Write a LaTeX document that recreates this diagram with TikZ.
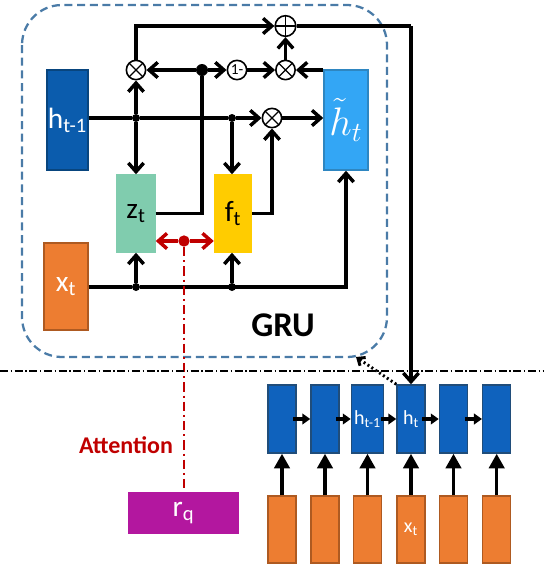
\documentclass[tikz,border=0pt]{standalone}
\usepackage{fontspec}
\setmainfont{Carlito}
\usetikzlibrary{arrows.meta}
\definecolor{hdark}{HTML}{0B5CAD}
\definecolor{hdarkb}{HTML}{08457E}
\definecolor{hlight}{HTML}{33A6F5}
\definecolor{hlightb}{HTML}{2E86C1}
\definecolor{zgreen}{HTML}{80CCAE}
\definecolor{fyellow}{HTML}{FFCC00}
\definecolor{xorange}{HTML}{ED7D31}
\definecolor{xorangeb}{HTML}{AE5A21}
\definecolor{rblue}{HTML}{0F62BD}
\definecolor{rblueb}{HTML}{204D7A}
\definecolor{rqmag}{HTML}{B3179F}
\definecolor{attred}{HTML}{C00000}
\definecolor{gruline}{HTML}{4A7BA7}
\begin{document}
\begin{tikzpicture}[x=0.75pt,y=-0.75pt,
  ln/.style={line width=2.6pt},
  arr/.style={ln,-{Straight Barb[length=6.5pt,width=11.5pt]}},
  farr/.style={line width=2.6pt,-{Triangle[length=11pt,width=11.5pt]}},
  sarr/.style={line width=2.6pt,-{Triangle[length=6pt,width=8pt]}},
  rarr/.style={line width=2.6pt,attred,-{Straight Barb[length=6.5pt,width=11.5pt]}},
  box/.style={draw,line width=1.1pt,inner sep=0pt},
  bigtxt/.style={font=\fontsize{22}{22}\selectfont},
  smtxt/.style={font=\fontsize{15}{15}\selectfont},
  mult/.style={circle,draw,fill=white,line width=1.2pt,minimum size=14.5pt,inner sep=0pt,
    path picture={\draw[line width=1pt] (path picture bounding box.north west) -- (path picture bounding box.south east)
      (path picture bounding box.north east) -- (path picture bounding box.south west);}},
  addc/.style={circle,draw,fill=white,line width=1.2pt,minimum size=15.5pt,inner sep=0pt,
    path picture={\draw[line width=1pt] (path picture bounding box.north) -- (path picture bounding box.south)
      (path picture bounding box.east) -- (path picture bounding box.west);}},
  jdot/.style={circle,fill=black,inner sep=0pt,minimum size=6pt},
  rblk/.style={box,fill=rblue,draw=rblueb,minimum width=21pt,minimum height=51pt,text=white,smtxt},
  oblk/.style={box,fill=xorange,draw=xorangeb,minimum width=21pt,minimum height=50.25pt,text=white,smtxt}
]
\useasboundingbox (0,0) rectangle (544,565);

% GRU frame
\draw[gruline,line width=1.7pt,dash pattern=on 6pt off 3.5pt,rounded corners=30pt] (22,5) rectangle (387,357);
\node[font=\fontsize{26}{26}\selectfont\bfseries] (gru) at (283,325) {GRU};

% boxes
\node[box,fill=hdark,draw=hdarkb,minimum width=30.75pt,minimum height=75pt,text=white,bigtxt] (hp) at (67.5,120) {h\textsubscript{t-1}};
\node[box,fill=hlight,draw=hlightb,minimum width=33pt,minimum height=75pt,text=white,font=\fontsize{24}{24}\selectfont] (ht) at (346,120) {\scalebox{1.2}{$\tilde{h}_t$}};
\node[box,fill=zgreen,draw=zgreen,minimum width=28.5pt,minimum height=57.75pt,bigtxt] (z) at (136,213.5) {z\textsubscript{t}};
\node[box,fill=fyellow,draw=fyellow,minimum width=27.75pt,minimum height=57.75pt,bigtxt] (f) at (233,213.5) {f\textsubscript{t}};
\node[box,fill=xorange,draw=xorangeb,minimum width=33pt,minimum height=65.25pt,text=white,bigtxt] (x) at (66,286.5) {x\textsubscript{t}};

% operators
\node[addc] (pl) at (285.5,26) {};
\node[mult] (m1) at (136,70) {};
\node[mult] (m2) at (285.5,70) {};
\node[mult] (m3) at (272,118) {};
\node[circle,draw,fill=white,line width=1.2pt,minimum size=14.5pt,inner sep=0pt,font=\fontsize{11.5}{11.5}\selectfont] (one) at (237,70) {1-};
\node[circle,fill=black,inner sep=0pt,minimum size=9pt] (dt) at (202,70) {};
\node[jdot] (j1) at (136,118) {};
\node[jdot] (j2) at (232,118) {};
\node[jdot] (j3) at (136,287) {};
\node[jdot] (j4) at (232,287) {};

% GRU connectors
\draw[arr] (m1.north) |- (pl.west);
\draw[arr] (dt) -- (m1.east);
\draw[arr] (dt) -- (one.west);
\draw[arr] (one.east) -- (m2.west);
\draw[arr] (m2 -| ht.west) -- (m2.east);
\draw[arr] (m2.north) -- (pl.south);
\draw[ln] (hp.east |- j1) -- (j1) -- (j2);
\draw[arr] (j2) -- (m3.west);
\draw[arr] (m3.east) -- (m3 -| ht.west);
\draw[arr] (j1) -- (m1.south);
\draw[arr] (j1) -- (z.north);
\draw[arr] (j2) -- (j2 |- f.north);
\draw[ln] (z.east) -| (dt);
\draw[arr] (f.east) -| (m3.south);
\draw[ln] (x.east |- j3) -- (j3);
\draw[arr] (j3) -| (ht.south);
\draw[arr] (j3) -- (z.south);
\draw[arr] (j4) -- (j4 |- f.south);

% attention
\node[circle,fill=attred,inner sep=0pt,minimum size=8.5pt] (rd) at (184,241) {};
\draw[rarr] (rd) -- (rd -| z.east);
\draw[rarr] (rd) -- (rd -| f.west);
\node[box,fill=rqmag,draw=rqmag,minimum width=81.75pt,minimum height=30pt,text=white,bigtxt] (rq) at (183.5,513) {r\textsubscript{q}};
\draw[attred,line width=2pt,dash pattern=on 7pt off 3pt on 1.5pt off 3pt] (rd) -- (rd |- rq.north);
\node[text=attred,font=\fontsize{18}{18}\selectfont\bfseries] (att) at (126,445) {Attention};

% separator
\coordinate (sl) at (0,371);
\coordinate (sr) at (544,371);
\draw[line width=1pt,dash pattern=on 6pt off 2pt on 1pt off 2pt] (sl) -- (sr);

% RNN chain
\node[rblk] (r1) at (282,419) {};
\node[rblk] (r2) at (325,419) {};
\node[rblk,minimum width=24pt] (r3) at (367.5,419) {h\textsubscript{t-1}};
\node[rblk] (r4) at (411,419) {h\textsubscript{t}};
\node[rblk] (r5) at (453.5,419) {};
\node[rblk] (r6) at (496.7,419) {};
\node[oblk] (o1) at (282,529.5) {};
\node[oblk] (o2) at (325,529.5) {};
\node[oblk] (o3) at (367.5,529.5) {};
\node[oblk] (o4) at (411,529.5) {x\textsubscript{t}};
\node[oblk] (o5) at (453.5,529.5) {};
\node[oblk] (o6) at (496.7,529.5) {};
\foreach \i in {1,...,6} {\draw[farr] (o\i.north) -- (r\i.south);}
\foreach \i/\j in {1/2,2/3,3/4,4/5,5/6} {\draw[sarr] ([xshift=-2.5pt]r\i.east) -- (r\j.west);}

% output of GRU to chain
\coordinate (tc) at (pl.east -| r4.north);
\draw[ln] (pl.east) -- (tc);
\draw[arr] (tc) -- (r4.north);
\coordinate (gb) at (356,357);
\draw[line width=2.2pt,dash pattern=on 1.5pt off 2pt,-{Straight Barb[length=4.5pt,width=7.5pt]}] (r4.north west) -- (gb);
\end{tikzpicture}
\end{document}
